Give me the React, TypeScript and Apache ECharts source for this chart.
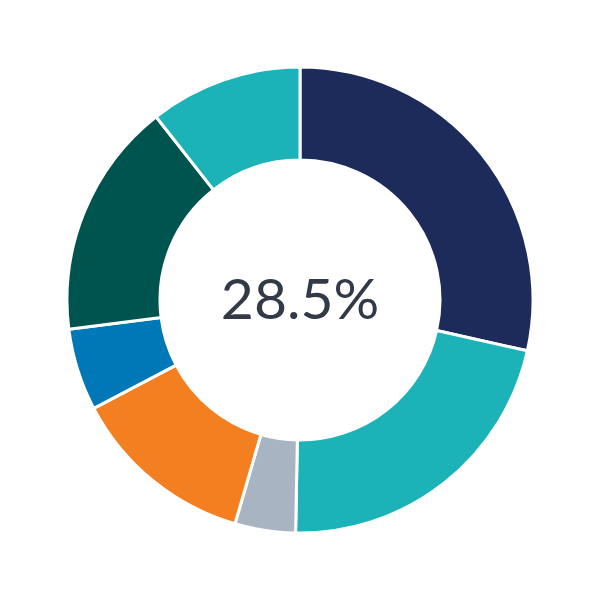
import React, { useEffect, useRef } from "react";
import * as echarts from "echarts";

const categories = ["A", "B", "C", "D", "E", "F", "G"];
const values = [28.5, 21.8, 4.2, 12.8, 5.7, 16.4, 10.6];
const colors = ["#1c2b5a", "#1bb3b8", "#a9b4c2", "#f47f20", "#0077b6", "#00544f", "#1bb3b8"];
const centerLabel = "28.5%";

export default function App() {
  const ref = useRef<HTMLDivElement>(null);
  useEffect(() => {
    const chart = echarts.init(ref.current!, null, { renderer: "svg" });
    chart.setOption({
      animation: false,
      backgroundColor: "#ffffff",
      graphic: [
        {
          type: "text",
          x: 300,
          y: 297,
          style: {
            text: centerLabel,
            x: 0,
            y: 0,
            align: "center",
            verticalAlign: "middle",
            fontFamily: "Lato",
            fontSize: 57,
            fill: "#333a47",
          },
          z: 10,
        },
      ],
      series: [
        {
          type: "pie",
          center: [300, 300],
          radius: [140, 233],
          startAngle: 90,
          clockwise: true,
          label: { show: false },
          labelLine: { show: false },
          itemStyle: { borderColor: "#ffffff", borderWidth: 3 },
          emphasis: { disabled: true },
          data: categories.map((c, i) => ({ name: c, value: values[i], itemStyle: { color: colors[i] } })),
        },
      ],
    });
    return () => chart.dispose();
  }, []);
  return <div ref={ref} style={{ width: 600, height: 600, position: "absolute", left: 0, top: 0 }} />;
}
